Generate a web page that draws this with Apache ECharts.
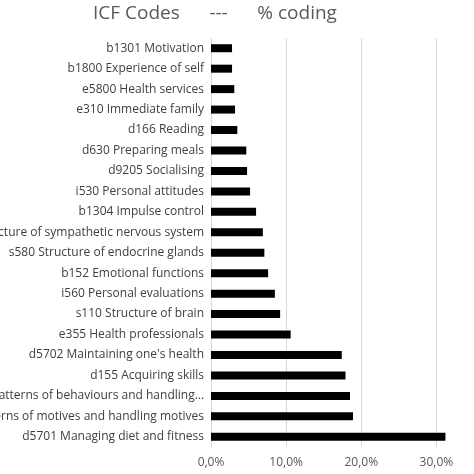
<!DOCTYPE html><html><head><meta charset="utf-8"><script src="https://cdn.jsdelivr.net/npm/echarts@6/dist/echarts.min.js"></script>
<style>html,body{margin:0;padding:0;background:#fff}#c{width:474px;height:474px}</style></head><body><div id="c"></div><script>
const categories=["b1301 Motivation","b1800 Experience of self","e5800 Health services","e310 Immediate family","d166 Reading","d630 Preparing meals","d9205 Socialising","i530 Personal attitudes","b1304 Impulse control","s1200 Structure of sympathetic nervous system","s580 Structure of endocrine glands","b152 Emotional functions","i560 Personal evaluations","s110 Structure of brain","e355 Health professionals","d5702 Maintaining one's health","d155 Acquiring skills","i550 Patterns of behaviours and handling…","i540 Patterns of motives and handling motives","d5701 Managing diet and fitness"];
const values=[0.028,0.028,0.031,0.032,0.035,0.047,0.048,0.052,0.060,0.069,0.071,0.076,0.085,0.092,0.106,0.174,0.179,0.185,0.189,0.312];
const tickLabels=["0,0%","10,0%","20,0%","30,0%"];
const chart=echarts.init(document.getElementById('c'));
const F='"Open Sans", sans-serif';
chart.setOption({animation:false,
title:{text:'ICF Codes      ---      % coding',left:88,top:-1,textStyle:{fontFamily:F,fontSize:19,fontWeight:'normal',color:'#595959'}},
grid:{left:211,right:0,top:38,bottom:27,containLabel:false,outerBoundsMode:'none'},
xAxis:{type:'value',min:0,max:0.35,interval:0.1,axisLine:{show:false},axisTick:{show:false},
 splitLine:{lineStyle:{color:'#d9d9d9'}},
 axisLabel:{fontFamily:F,fontSize:12,color:'#595959',margin:10,formatter:v=>{const i=Math.round(v*10);return Math.abs(v*10-i)<1e-6?(tickLabels[i]||''):'';}}},
yAxis:{type:'category',inverse:true,data:categories,axisTick:{show:false},axisLine:{lineStyle:{color:'#d9d9d9'}},
 axisLabel:{fontFamily:F,fontSize:12,color:'#404040',margin:7,hideOverlap:false}},
series:[{type:'bar',data:values,barWidth:8,itemStyle:{color:'#000'}}]});
</script></body></html>
